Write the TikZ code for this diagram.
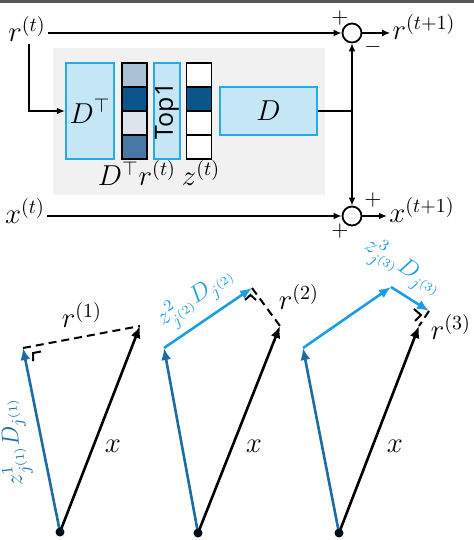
\documentclass[tikz,border=0pt]{standalone}
\usepackage{fontspec}
\setsansfont{Open Sans}
\usetikzlibrary{arrows.meta, positioning}
\definecolor{edgeblue}{RGB}{38,172,228}
\definecolor{fillblue}{RGB}{197,230,245}
\definecolor{navy}{RGB}{10,86,140}
\definecolor{steelA}{RGB}{168,193,213}
\definecolor{steelC}{RGB}{220,228,236}
\definecolor{steelD}{RGB}{72,121,164}
\definecolor{vecdark}{RGB}{28,108,164}
\definecolor{veclight}{RGB}{27,159,226}
\definecolor{panelgray}{RGB}{241,241,241}
\definecolor{topbar}{RGB}{88,88,88}
\newcommand\labfont{\fontsize{14}{16}\selectfont}
\newcommand\vecfont{\fontsize{12}{14}\selectfont}

\begin{document}
\begin{tikzpicture}[x=0.5pt, y=-0.5pt,
        blk/.style={draw=edgeblue, line width=1.1pt, fill=fillblue, inner sep=0pt},
        cell/.style={draw=black, line width=0.7pt, minimum width=12.5pt,
                     minimum height=12pt, inner sep=0pt},
        sumc/.style={circle, draw, line width=0.9pt, minimum size=9.5pt, inner sep=0pt},
        lab/.style={font=\labfont, inner sep=1pt},
        sgn/.style={font=\fontsize{10.5}{12}\selectfont, inner sep=0pt},
        arr/.style={-{Latex[length=4pt,width=3.5pt]}, line width=0.9pt},
        vec/.style={-{Latex[length=6pt,width=5pt]}, line width=1.3pt},
        perp/.style={dash pattern=on 4pt off 2.5pt, line width=1pt},
        vlab/.style={font=\vecfont, inner sep=1pt},
        dot/.style={circle, fill=black!85!navy, inner sep=0pt, minimum size=4.5pt}]
      \useasboundingbox (0,0) rectangle (474,540);
      \fill[topbar] (0,0) rectangle (474,3);

      % update block
      \node[fill=panelgray, minimum width=136pt, minimum height=73.5pt] (bg) at (189,121.5) {};
      \node[blk, minimum width=24pt, minimum height=48pt] (dt) at (90,111) {\labfont$D^{\top}$};
      \foreach \c [count=\i] in {steelA, navy, steelC, steelD}
        \node[cell, fill=\c] (p\i) at (134.5,51+24*\i) {};
      \node[blk, minimum width=13pt, minimum height=48pt] (top) at (167,111)
        {\rotatebox{90}{\fontsize{12.5}{14}\sffamily Top1}};
      \foreach \c [count=\i] in {white, navy, white, white}
        \node[cell, fill=\c] (q\i) at (199,51+24*\i) {};
      \node[blk, minimum width=48.5pt, minimum height=24pt] (dd) at (268.5,111) {\labfont$D$};
      \node[lab] (plab) at (137,173) {$D^{\top}r^{(t)}$};
      \node[lab] (qlab) at (201,173) {$z^{(t)}$};

      % residual and estimate
      \node[lab] (rt) at (27,29) {$r^{(t)}$};
      \node[sumc] (s1) at (352,33) {};
      \node[lab] (rt1) at (424,27) {$r^{(t+1)}$};
      \node[lab] (xt) at (25,211) {$x^{(t)}$};
      \node[sumc] (s2) at (352,216) {};
      \node[lab] (xt1) at (422,210) {$x^{(t+1)}$};
      \coordinate (jn) at (dd.east -| s1);

      \draw[arr] (rt.east |- s1) -- (s1.west);
      \draw[arr] (s1.east) -- (rt1.west |- s1);
      \draw[arr] (xt.east |- s2) -- (s2.west);
      \draw[arr] (s2.east) -- (xt1.west |- s2);
      \draw[arr] ([xshift=1pt]rt.south) |- (dt.west);
      \draw[line width=0.9pt] (dd.east) -- (jn);
      \draw[arr] (jn) -- (s1.south);
      \draw[arr] (jn) -- (s2.north);

      \node[sgn] at (340,18) {$+$};
      \node[sgn] at (373,47) {$-$};
      \node[sgn] at (373,200) {$+$};
      \node[sgn] at (340,231) {$+$};

      % step 1
      \coordinate (o1) at (60,532);
      \coordinate (a1) at (23,348);
      \coordinate (x1) at (140,326);
      \draw[vec, vecdark] (o1) -- (a1);
      \draw[vec] (o1) -- (x1);
      \draw[perp] (a1) -- (x1);
      \draw[line width=1pt] (33,361) -- (33,353) -- (41,351.5);
      \node[dot] (d1) at (o1) {};
      \node[lab] (r1) at (82,315) {$r^{(1)}$};
      \node[lab] (xl1) at (113,446) {$x$};
      \node[vlab, text=vecdark, rotate=95] (z1) at (15,442) {$z^{1}_{j^{(1)}}D_{j^{(1)}}$};

      % step 2
      \coordinate (o2) at (198,533);
      \coordinate (a2) at (164,348);
      \coordinate (b2) at (252,288);
      \coordinate (x2) at (280,326);
      \draw[vec, vecdark] (o2) -- (a2);
      \draw[vec, veclight] (a2) -- (b2);
      \draw[vec] (o2) -- (x2);
      \draw[perp] (b2) -- (x2);
      \draw[line width=1pt] (245,300) -- (250.5,295) -- (256,300);
      \node[dot] (d2) at (o2) {};
      \node[lab] (r2) at (299,297) {$r^{(2)}$};
      \node[lab] (xl2) at (254,446) {$x$};
      \node[vlab, text=veclight, rotate=34] (z2) at (197,299) {$z^{2}_{j^{(2)}}D_{j^{(2)}}$};

      % step 3
      \coordinate (o3) at (339,533);
      \coordinate (a3) at (303,348);
      \coordinate (b3) at (391,287);
      \coordinate (c3) at (429,311);
      \coordinate (x3) at (419,326);
      \draw[vec, vecdark] (o3) -- (a3);
      \draw[vec, veclight] (a3) -- (b3);
      \draw[vec, veclight] (b3) -- (c3);
      \draw[vec] (o3) -- (x3);
      \draw[perp] (c3) -- (x3);
      \draw[line width=1pt] (414,309) -- (421,315) -- (415,321);
      \node[dot] (d3) at (o3) {};
      \node[lab] (r3) at (451,327) {$r^{(3)}$};
      \node[lab] (xl3) at (395,446) {$x$};
      \node[vlab, text=veclight, rotate=-33] (z3) at (402,269) {$z^{3}_{j^{(3)}}D_{j^{(3)}}$};
\end{tikzpicture}
\end{document}
